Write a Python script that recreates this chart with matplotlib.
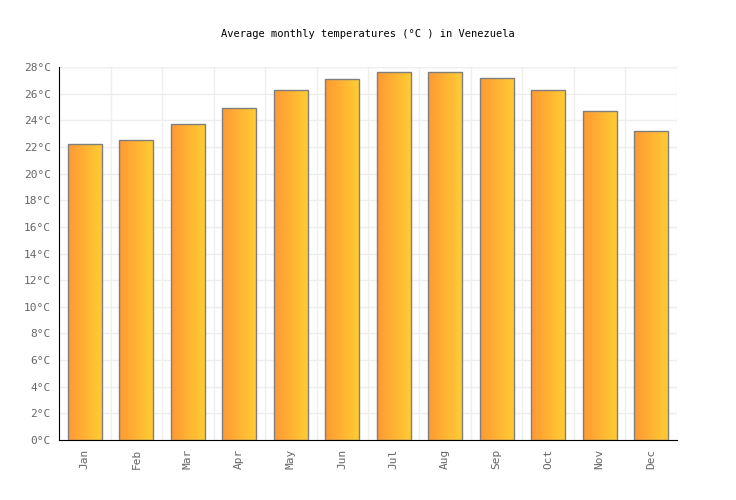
import numpy as np
import matplotlib
matplotlib.use("Agg")
from matplotlib import pyplot as plt
from matplotlib.colors import LinearSegmentedColormap

months = ['Jan', 'Feb', 'Mar', 'Apr', 'May', 'Jun', 'Jul', 'Aug', 'Sep', 'Oct', 'Nov', 'Dec']
temps = [22.2, 22.5, 23.7, 24.9, 26.3, 27.1, 27.6, 27.6, 27.2, 26.3, 24.7, 23.2]
yticks = list(range(0, 29, 2))
ylabels = ['%d°C' % t for t in yticks]

plt.rcParams['font.family'] = ['DejaVu Sans Mono']

fig = plt.figure(figsize=(7.36, 5.0), dpi=100)
ax = fig.add_axes([0.0802, 0.12, 0.8396, 0.746])

x = np.arange(len(months))
bars = ax.bar(x, temps, width=0.66, color='none', edgecolor='none', zorder=2)

# gradient fill, orange on the left to yellow on the right
cmap = LinearSegmentedColormap.from_list('warm', ['#ff9933', '#ffcc33'])
grad = np.linspace(0, 1, 64).reshape(1, -1)
for b in bars:
	im = ax.imshow(grad, cmap=cmap, aspect='auto', zorder=2, interpolation='bilinear',
		extent=(b.get_x(), b.get_x() + b.get_width(), 0, b.get_height()))
	im.set_clip_path(b)

# outlines on top
ax.bar(x, temps, width=0.66, color='none', edgecolor='#7f7f7f', linewidth=1.0, zorder=4)

ax.set_xlim(-0.5, len(months) - 0.5)
ax.set_ylim(0, 28)
ax.set_xticks(x)
ax.set_xticklabels(months, rotation=90, fontsize=8, color='#666666')
ax.set_yticks(yticks)
ax.set_yticklabels(ylabels, fontsize=8, color='#666666')
ax.tick_params(length=0, pad=6)

# grid lines between categories and at each y tick
ax.set_xticks(np.arange(0.5, len(months), 1), minor=True)
ax.grid(True, which='minor', axis='x', color='#eeeeee', linewidth=1, zorder=0)
ax.grid(True, which='major', axis='y', color='#eeeeee', linewidth=1, zorder=0)
ax.tick_params(which='minor', length=0)

for s in ['top', 'right']:
	ax.spines[s].set_visible(False)
ax.spines['left'].set_color('black')
ax.spines['bottom'].set_color('black')
ax.axhline(28, color='#eeeeee', linewidth=1, zorder=0)

fig.text(0.5, 0.932, 'Average monthly temperatures (°C ) in Venezuela', ha='center', va='center', fontsize=7.5)

fig.savefig('out.png', dpi=100)
